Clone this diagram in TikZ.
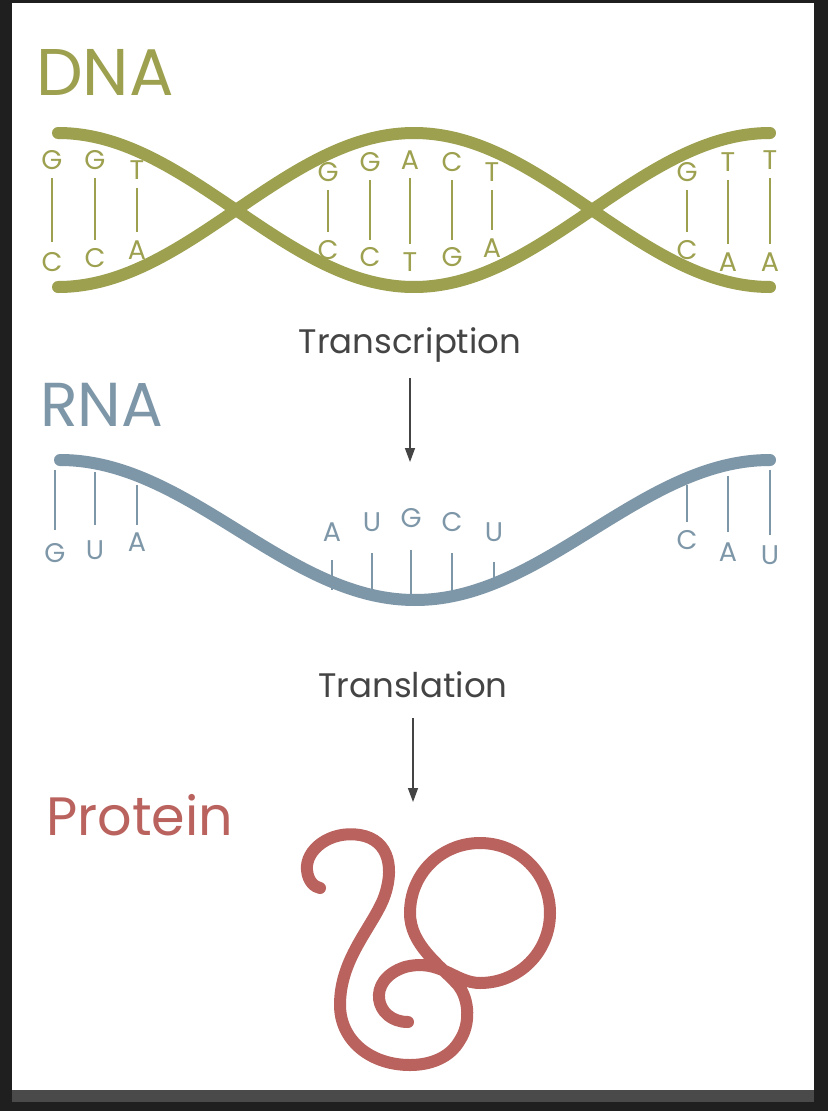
\documentclass[tikz,border=0pt]{standalone}
\usepackage{fontspec}
\setmainfont{Poppins}
\usetikzlibrary{arrows.meta}
\definecolor{dnac}{HTML}{9DA04E}
\definecolor{rnac}{HTML}{7E97A8}
\definecolor{protc}{HTML}{BA625D}
\definecolor{txt}{HTML}{444444}
\definecolor{frame}{HTML}{1F1F1F}
\definecolor{bar}{HTML}{4A4A4A}
\tikzset{
 base/.style={font=\fontsize{27}{27}\selectfont, inner sep=0pt},
 dnab/.style={base, text=dnac},
 rnab/.style={base, text=rnac},
 bond/.style={line width=1.4pt},
 strand/.style={line width=12pt, line cap=round},
 title/.style={anchor=west, inner sep=0pt},
 label/.style={font=\fontsize{34}{34}\selectfont, text=txt, inner sep=0pt},
 arr/.style={-{Triangle[length=14pt,width=10pt]}, line width=1.4pt, draw=txt}
}
\begin{document}
\begin{tikzpicture}[x=1pt,y=-1pt]
\fill[frame] (0,0) rectangle (828,1111);
\fill[white] (12,3) rectangle (814,1090);
\fill[bar] (12,1090) rectangle (814,1102);
\useasboundingbox (0,0) rectangle (828,1111);
% DNA
\node[title, text=dnac, font=\fontsize{66}{66}\selectfont] (dna) at (36,72) {DNA};
\draw[strand, dnac] plot[domain=58:770, samples=120, smooth] (\x,{210-77*cos((\x-58)*0.50562)});
\draw[strand, dnac] plot[domain=58:770, samples=120, smooth] (\x,{210+77*cos((\x-58)*0.50562)});
\foreach \n/\x/\ya/\t/\yb/\b/\la/\lb in {
 a/52/160/G/262/C/178/242, b/95/160/G/258/C/178/240, c/137/170/T/250/A/188/232,
 d/328/172/G/250/C/190/232, e/370/162/G/257/C/180/240, f/410/160/A/262/T/178/244,
 g/452/162/C/257/G/180/240, h/492/172/T/248/A/190/230,
 i/687/172/G/250/C/190/232, j/728/162/T/262/A/180/244, k/770/160/T/262/A/178/244}{
 \node[dnab] (t\n) at (\x,\ya) {\t};
 \node[dnab] (u\n) at (\x,\yb) {\b};
 \draw[bond, dnac] (\x,\la) -- (\x,\lb);
}
% Transcription
\node[label] (trs) at (410,345) {Transcription};
\coordinate (trsE) at (410,462);
\draw[arr] (410,378) -- (trsE);
% RNA
\node[title, text=rnac, font=\fontsize{62}{62}\selectfont] (rna) at (40,405) {RNA};
\draw[strand, rnac] plot[domain=60:770, samples=120, smooth] (\x,{530-70*cos((\x-60)*0.50704)});
\foreach \n/\x/\y/\t/\la/\lb in {a/55/553/G/470/530, b/95/550/U/472/525, c/137/542/A/485/525,
 i/687/540/C/485/522, j/728/552/A/476/532, k/770/555/U/470/535}{
 \node[rnab] (r\n) at (\x,\y) {\t};
 \draw[bond, rnac] (\x,\la) -- (\x,\lb);
}
\foreach \n/\x/\y/\la/\lb/\t in {d/332/532/560/590/A, e/372/522/553/596/U, f/411/518/550/598/G, g/452/522/553/596/C, h/494/532/562/588/U}{
 \node[rnab] (r\n) at (\x,\y) {\t};
 \draw[bond, rnac] (\x,\la) -- (\x,\lb);
}
% Translation
\node[label] (trl) at (413,685) {Translation};
\coordinate (trlE) at (413,802);
\draw[arr] (413,718) -- (trlE);
% Protein
\node[title, text=protc, font=\fontsize{54}{54}\selectfont] (prot) at (46,815) {Protein};
\draw[strand, protc] (408,1022) .. controls (375,1022) and (365,980) .. (405,967)
 .. controls (440,958) and (455,983) .. (480,983)
 .. controls (519,983) and (550,952) .. (550,913)
 .. controls (550,874) and (519,843) .. (480,843)
 .. controls (441,843) and (410,874) .. (410,913)
 .. controls (410,945) and (440,965) .. (458,985)
 .. controls (470,1000) and (470,1025) .. (460,1040)
 .. controls (450,1058) and (430,1065) .. (410,1065)
 .. controls (370,1065) and (340,1040) .. (340,1005)
 .. controls (340,960) and (370,930) .. (383,900)
 .. controls (395,870) and (390,840) .. (360,835)
 .. controls (330,830) and (305,850) .. (307,870)
 .. controls (308,882) and (315,887) .. (320,888);
\end{tikzpicture}
\end{document}
